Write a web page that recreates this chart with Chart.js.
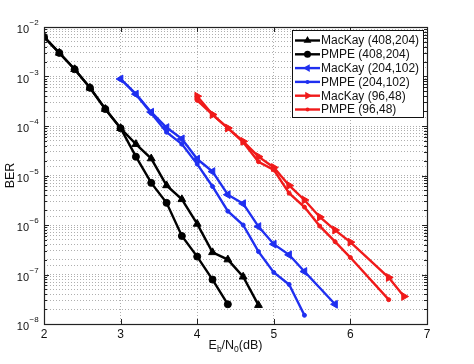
<!DOCTYPE html>
<html>
<head>
<meta charset="utf-8">
<script src="https://cdn.jsdelivr.net/npm/chart.js@4/dist/chart.umd.min.js"></script>
<style>
  html, body { margin: 0; padding: 0; background: #fff; }
  #wrap { width: 474px; height: 364px; }
</style>
</head>
<body>
<div id="wrap"><canvas id="berChart" width="474" height="364"></canvas></div>
<script>
  'use strict';

  // Eb/N0 (dB) and BER
  var ebMacKay408 = [2.0, 2.2, 2.4, 2.6, 2.8, 3.0, 3.2, 3.4, 3.6, 3.8, 4.0, 4.2, 4.4, 4.6, 4.8];
  var berMacKay408 = [6.3e-3, 3.0e-3, 1.4e-3, 5.9e-4, 2.2e-4, 9.0e-5, 4.3e-5, 2.2e-5, 6.3e-6, 3.3e-6, 1.05e-6, 2.8e-7, 2.0e-7, 9.0e-8, 2.4e-8];

  var ebPMPE408 = [2.0, 2.2, 2.4, 2.6, 2.8, 3.0, 3.2, 3.4, 3.6, 3.8, 4.0, 4.2, 4.4];
  var berPMPE408 = [6.3e-3, 3.0e-3, 1.4e-3, 5.9e-4, 2.2e-4, 9.0e-5, 2.4e-5, 7.1e-6, 2.8e-6, 6.0e-7, 2.3e-7, 7.9e-8, 2.5e-8];

  var ebMacKay204 = [3.0, 3.2, 3.4, 3.6, 3.8, 4.0, 4.2, 4.4, 4.6, 4.8, 5.0, 5.2, 5.4, 5.8];
  var berMacKay204 = [8.9e-4, 4.4e-4, 1.9e-4, 9.3e-5, 5.5e-5, 2.15e-5, 1.2e-5, 4.1e-6, 2.7e-6, 9.3e-7, 4.1e-7, 2.5e-7, 1.15e-7, 2.5e-8];

  var ebPMPE204 = [3.0, 3.2, 3.4, 3.6, 3.8, 4.0, 4.2, 4.4, 4.6, 4.8, 5.0, 5.2, 5.4];
  var berPMPE204 = [8.9e-4, 4.4e-4, 1.8e-4, 7.5e-5, 4.3e-5, 1.7e-5, 6.0e-6, 1.9e-6, 1.0e-6, 2.9e-7, 1.1e-7, 6.3e-8, 1.5e-8];

  var ebMacKay96 = [4.0, 4.2, 4.4, 4.6, 4.8, 5.0, 5.2, 5.4, 5.6, 5.8, 6.0, 6.5, 6.7];
  var berMacKay96 = [4.0e-4, 1.7e-4, 9.1e-5, 4.9e-5, 2.4e-5, 1.45e-5, 6.3e-6, 3.2e-6, 1.45e-6, 7.9e-7, 4.5e-7, 8.7e-8, 3.6e-8];

  var ebPMPE96 = [4.0, 4.2, 4.4, 4.6, 4.8, 5.0, 5.2, 5.4, 5.6, 5.8, 6.0, 6.5];
  var berPMPE96 = [3.3e-4, 1.7e-4, 9.1e-5, 4.7e-5, 1.9e-5, 1.3e-5, 4.4e-6, 2.3e-6, 9.5e-7, 4.6e-7, 2.2e-7, 3.1e-8];

  var xTicks = [2, 3, 4, 5, 6, 7];
  var yExponents = [-2, -3, -4, -5, -6, -7, -8];

  var FONT = '"Liberation Sans", Arial, Helvetica, sans-serif';
  var BLACK = '#000000';
  var BLUE = '#1f2ff0';
  var RED = '#f01a1a';

  function pts(xs, ys) {
    return xs.map(function (x, i) { return { x: x, y: ys[i] }; });
  }

  function series(label, xs, ys, color, style, rot, radius) {
    return {
      label: label,
      data: pts(xs, ys),
      borderColor: color,
      backgroundColor: color,
      pointBackgroundColor: color,
      pointBorderColor: color,
      borderWidth: 2.4,
      pointStyle: style,
      pointRotation: rot,
      pointRadius: radius,
      pointBorderWidth: 1,
      tension: 0,
      fill: false
    };
  }

  var datasets = [
    series('MacKay (408,204)', ebMacKay408, berMacKay408, BLACK, 'triangle', 0, 4.5),
    series('PMPE (408,204)', ebPMPE408, berPMPE408, BLACK, 'circle', 0, 3.5),
    series('MacKay (204,102)', ebMacKay204, berMacKay204, BLUE, 'triangle', -90, 4.5),
    series('PMPE (204,102)', ebPMPE204, berPMPE204, BLUE, 'circle', 0, 2),
    series('MacKay (96,48)', ebMacKay96, berMacKay96, RED, 'triangle', 90, 4.5),
    series('PMPE (96,48)', ebPMPE96, berPMPE96, RED, 'circle', 0, 2)
  ];
  // later series drawn on top, like the original
  datasets.forEach(function (d, i) { d.order = datasets.length - i; });

  function marker(ctx, style, rot, r, x, y, color) {
    ctx.save();
    ctx.fillStyle = color;
    ctx.strokeStyle = color;
    ctx.beginPath();
    if (style === 'circle') {
      ctx.arc(x, y, r, 0, Math.PI * 2);
    } else {
      var rad = rot * Math.PI / 180;
      var s = r * 1.5;
      for (var k = 0; k < 3; k++) {
        var a = rad + k * 2 * Math.PI / 3;
        var px = x + Math.sin(a) * s * 0.667;
        var py = y - Math.cos(a) * s * 0.667;
        if (k === 0) ctx.moveTo(px, py); else ctx.lineTo(px, py);
      }
      ctx.closePath();
    }
    ctx.fill();
    ctx.restore();
  }

  var decorPlugin = {
    id: 'decor',
    beforeDatasetsDraw: function (chart) {
      var ctx = chart.ctx;
      var a = chart.chartArea;
      var xs = chart.scales.x, ys = chart.scales.y;
      ctx.save();
      ctx.strokeStyle = '#222';
      ctx.lineWidth = 1;
      ctx.beginPath();
      // inward tick marks on all four sides
      xTicks.forEach(function (v) {
        var px = Math.round(xs.getPixelForValue(v)) + 0.5;
        ctx.moveTo(px, a.bottom); ctx.lineTo(px, a.bottom - 5);
        ctx.moveTo(px, a.top); ctx.lineTo(px, a.top + 5);
      });
      for (var e = -8; e <= -3; e++) {
        for (var m = 1; m <= 9; m++) {
          var py = Math.round(ys.getPixelForValue(m * Math.pow(10, e))) + 0.5;
          var len = m === 1 ? 5 : 3;
          ctx.moveTo(a.left, py); ctx.lineTo(a.left + len, py);
          ctx.moveTo(a.right, py); ctx.lineTo(a.right - len, py);
        }
      }
      ctx.stroke();
      ctx.restore();
    },
    afterDraw: function (chart) {
      var ctx = chart.ctx;
      var a = chart.chartArea;
      var xs = chart.scales.x, ys = chart.scales.y;
      ctx.save();

      // axes box
      ctx.strokeStyle = '#222';
      ctx.lineWidth = 1.2;
      ctx.strokeRect(a.left + 0.5, a.top + 0.5, a.right - a.left, a.bottom - a.top);

      ctx.fillStyle = '#111';

      // x tick labels
      ctx.font = '12px ' + FONT;
      ctx.textAlign = 'center';
      ctx.textBaseline = 'middle';
      xTicks.forEach(function (v) {
        ctx.fillText(String(v), xs.getPixelForValue(v), a.bottom + 11);
      });

      // y tick labels 10^e
      yExponents.forEach(function (e) {
        var py = ys.getPixelForValue(Math.pow(10, e));
        ctx.font = '11px ' + FONT;
        ctx.textAlign = 'right';
        ctx.textBaseline = 'middle';
        ctx.fillText('10', 29, py + 3);
        ctx.font = '8px ' + FONT;
        ctx.textAlign = 'left';
        ctx.fillText('\u2212' + String(-e), 29.5, py - 4);
      });

      // x axis title: Eb/N0(dB)
      var big = '12.5px ' + FONT, small = '8.5px ' + FONT;
      var parts = [['E', big, 0], ['b', small, 3], ['/N', big, 0], ['0', small, 3], ['(dB)', big, 0]];
      var total = 0;
      parts.forEach(function (p) { ctx.font = p[1]; total += ctx.measureText(p[0]).width; });
      var cx = (a.left + a.right) / 2 - total / 2;
      ctx.textAlign = 'left';
      ctx.textBaseline = 'alphabetic';
      parts.forEach(function (p) {
        ctx.font = p[1];
        ctx.fillText(p[0], cx, 349 + p[2]);
        cx += ctx.measureText(p[0]).width;
      });

      // y axis title
      ctx.save();
      ctx.translate(11, (a.top + a.bottom) / 2);
      ctx.rotate(-Math.PI / 2);
      ctx.font = '12.5px ' + FONT;
      ctx.textAlign = 'center';
      ctx.textBaseline = 'middle';
      ctx.fillText('BER', 0, 0);
      ctx.restore();

      // legend box inside the axes
      var lx = 292, ly = 30, lw = 131, lh = 87;
      ctx.fillStyle = '#fff';
      ctx.fillRect(lx, ly, lw, lh);
      ctx.strokeStyle = '#111';
      ctx.lineWidth = 1;
      ctx.strokeRect(lx + 0.5, ly + 0.5, lw, lh);
      chart.data.datasets.forEach(function (d, i) {
        var ry = 40.5 + i * 13.8;
        ctx.strokeStyle = d.borderColor;
        ctx.lineWidth = 2.4;
        ctx.beginPath();
        ctx.moveTo(295, ry);
        ctx.lineTo(320, ry);
        ctx.stroke();
        marker(ctx, d.pointStyle, d.pointRotation, d.pointRadius, 307.5, ry, d.borderColor);
        ctx.fillStyle = '#111';
        ctx.font = '12px ' + FONT;
        ctx.textAlign = 'left';
        ctx.textBaseline = 'middle';
        ctx.fillText(d.label, 321, ry + 0.5);
      });

      ctx.restore();
    }
  };

  var gridColor = 'rgba(110,110,110,0.55)';

  new Chart(document.getElementById('berChart'), {
    type: 'line',
    data: { datasets: datasets },
    plugins: [decorPlugin],
    options: {
      responsive: false,
      animation: false,
      layout: { padding: { left: 44, top: 27, right: 47, bottom: 40 } },
      plugins: {
        legend: { display: false },
        tooltip: { enabled: false }
      },
      scales: {
        x: {
          type: 'linear',
          min: 2,
          max: 7,
          ticks: { display: false, stepSize: 1 },
          grid: { color: gridColor, lineWidth: 1, drawTicks: false },
          border: { display: false, dash: [1, 2] }
        },
        y: {
          type: 'logarithmic',
          min: 1e-8,
          max: 1e-2,
          ticks: { display: false },
          grid: { color: gridColor, lineWidth: 1, drawTicks: false },
          border: { display: false, dash: [1, 2] }
        }
      }
    }
  });
</script>
</body>
</html>
